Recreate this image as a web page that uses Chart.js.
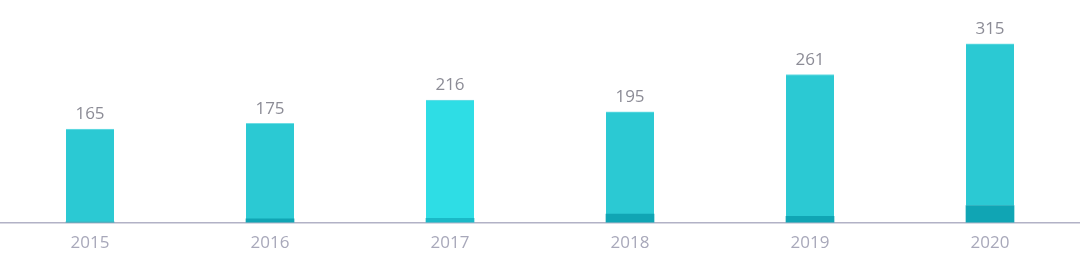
<!DOCTYPE html>
<html>
<head>
<meta charset="utf-8">
<script src="https://cdn.jsdelivr.net/npm/chart.js@4/dist/chart.umd.min.js"></script>
<style>
html,body{margin:0;padding:0;background:#fff;}
#wrap{width:1080px;height:276px;position:relative;}
</style>
</head>
<body>
<div id="wrap"><canvas id="c"></canvas></div>
<script>
const years = ['2015','2016','2017','2018','2019','2020'];
const totals = [165, 175, 216, 195, 261, 315];
const baseValues = [1.5, 6.5, 7.5, 15, 11, 30];
const upperValues = [163.5, 168.5, 208.5, 180, 250, 285];
const upperColors = ['#2BC9D3','#2BC9D3','#2EDDE5','#2BC9D3','#2BC9D3','#2BC9D3'];
const baseColors = ['#10A5B4','#10A5B4','#1AB9C7','#10A5B4','#10A5B4','#10A5B4'];

const totalLabels = {
  id: 'totalLabels',
  afterDatasetsDraw(chart) {
    const ctx = chart.ctx;
    const meta = chart.getDatasetMeta(1);
    ctx.save();
    ctx.font = '17px "Open Sans", sans-serif';
    ctx.fillStyle = '#8C8C96';
    ctx.textAlign = 'center';
    ctx.textBaseline = 'bottom';
    meta.data.forEach((bar, i) => {
      ctx.fillText(String(totals[i]), bar.x, bar.y - 6);
    });
    ctx.restore();
  }
};

new Chart(document.getElementById('c'), {
  type: 'bar',
  data: {
    labels: years,
    datasets: [
      { data: baseValues, backgroundColor: baseColors, barThickness: 48, borderWidth: 0 },
      { data: upperValues, backgroundColor: upperColors, barThickness: 48,
        borderWidth: {top: 1, left: 0, right: 0, bottom: 0}, borderColor: '#6EDDE4', borderSkipped: 'bottom' }
    ]
  },
  options: {
    responsive: true,
    maintainAspectRatio: false,
    animation: false,
    layout: { padding: { top: 24, bottom: 13, left: 0, right: 0 } },
    plugins: { legend: { display: false }, tooltip: { enabled: false } },
    scales: {
      x: {
        stacked: true,
        grid: { display: false, drawTicks: false },
        border: { display: true, color: '#B2B2C6', width: 1.5 },
        ticks: { color: '#A8A8BA', font: { size: 17, family: '"Open Sans", sans-serif' }, padding: 10 }
      },
      y: {
        stacked: true,
        display: false,
        min: 0,
        max: 350
      }
    }
  },
  plugins: [totalLabels]
});
</script>
</body>
</html>
